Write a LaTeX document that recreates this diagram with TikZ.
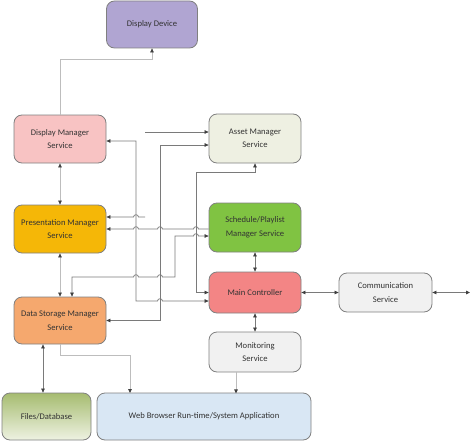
\documentclass[tikz,border=0pt]{standalone}
\usepackage{fontspec}
\setmainfont{Carlito}
\usetikzlibrary{arrows.meta,calc}
\definecolor{cdd}{HTML}{B0A5D2}
\definecolor{cdm}{HTML}{F8C3C3}
\definecolor{cam}{HTML}{EEF0E2}
\definecolor{cpm}{HTML}{F5B707}
\definecolor{csp}{HTML}{80C342}
\definecolor{cmc}{HTML}{F38585}
\definecolor{ccs}{HTML}{F1F1F1}
\definecolor{cdsm}{HTML}{F5A86E}
\definecolor{cfdt}{HTML}{A6BC70}
\definecolor{cfdb}{HTML}{EEF2E2}
\definecolor{cwb}{HTML}{D9E7F4}
\definecolor{cline}{HTML}{7A7A7A}
\definecolor{clight}{HTML}{BDBDBD}
\definecolor{ctip}{HTML}{404040}
\definecolor{ctext}{HTML}{333333}
\tikzset{
  box/.style={draw=black!50, line width=0.8pt, rounded corners=8pt, inner sep=0pt,
    align=center, text=ctext, font=\fontsize{8.6}{13.5}\selectfont},
  tip/.tip={Triangle[length=4pt,width=3.6pt,fill=ctip,color=ctip]},
  dk/.style={draw=cline, line width=0.75pt},
  lt/.style={draw=clight, line width=0.75pt},
}
\begin{document}
\begin{tikzpicture}[x=1pt,y=-1pt]
\useasboundingbox (0,0) rectangle (474,444);
% nodes
\node[box, fill=cdd, minimum width=91pt, minimum height=47pt] (dd) at (152,24.5) {Display Device};
\node[box, fill=cdm, minimum width=92pt, minimum height=48pt] (dm) at (60,139) {Display Manager\\Service};
\node[box, fill=cam, minimum width=92pt, minimum height=49pt] (am) at (255,138.5) {Asset Manager\\Service};
\node[box, fill=cpm, minimum width=92pt, minimum height=48pt] (pm) at (60,229) {Presentation Manager\\Service};
\node[box, fill=csp, minimum width=92pt, minimum height=49pt] (sp) at (255,227.5) {Schedule/Playlist\\Manager Service};
\node[box, fill=cmc, minimum width=92pt, minimum height=41pt] (mc) at (255,292.5) {Main Controller};
\node[box, fill=ccs, minimum width=93pt, minimum height=39pt] (cs) at (385.5,292.5) {Communication\\Service};
\node[box, fill=cdsm, minimum width=92pt, minimum height=47pt] (dsm) at (60,320.5) {Data Storage Manager\\Service};
\node[box, fill=ccs, minimum width=92pt, minimum height=40pt] (mon) at (255,352) {Monitoring\\Service};
\node[box, top color=cfdt, bottom color=cfdb, minimum width=89pt, minimum height=47pt] (fd) at (46.5,416.5) {Files/Database};
\node[box, fill=cwb, minimum width=214pt, minimum height=47pt] (wb) at (204,416.5) {Web Browser Run-time/System Application};
\coordinate (s1) at (145,132);
\coordinate (s2) at (145,217);
\coordinate (ext) at (470,292.5);
% connectors
\draw[lt,-tip] (dm.north) |- (152,59) -- (dd.south);
\draw[lt,tip-tip] (dm.south) -- (pm.north);
\draw[lt,tip-tip] (pm.south) -- (dsm.north);
\draw[dk,tip-tip] ([xshift=12pt]dsm.north) -- (72,277) -- (133.5,277)
  .. controls (133.5,274) and (138.5,274) .. (138.5,277) -- (157.5,277)
  .. controls (157.5,274) and (162.5,274) .. (162.5,277) -- (175,277) -- (175,236) -- (193.5,236)
  .. controls (193.5,233) and (198.5,233) .. (198.5,236) -- ([yshift=-8.5pt]sp.west);
\draw[dk,tip-tip] ([yshift=-2pt]dm.east) -- (136,141) -- (136,301) -- (157.5,301)
  .. controls (157.5,298) and (162.5,298) .. (162.5,301) -- ([yshift=-8.5pt]mc.west);
\draw[dk,tip-tip] ([yshift=-6.5pt]am.west) -- (160,145) -- (160,320.5) -- (dsm.east);
\draw[dk,tip-tip] (am.south) |- (196,172) |- (mc.west);
\draw[dk,-tip] ([yshift=-1.5pt]sp.west) -- (198.5,229)
  .. controls (198.5,226) and (193.5,226) .. (193.5,229) -- (162.5,229)
  .. controls (162.5,226) and (157.5,226) .. (157.5,229) -- (138.5,229)
  .. controls (138.5,226) and (133.5,226) .. (133.5,229) -- (pm.east);
\draw[dk,-tip] (s2) -- (138.5,217) .. controls (138.5,214) and (133.5,214) .. (133.5,217) -- ([yshift=12pt]pm.east);
\draw[dk,-tip] (s1) -- ([yshift=6.5pt]am.west);
\draw[dk,tip-tip] (sp.south) -- (mc.north);
\draw[dk,tip-tip] (mc.east) -- (cs.west);
\draw[dk,tip-tip] (cs.east) -- (ext);
\draw[dk,tip-tip] (mc.south) -- (mon.north);
\draw[lt,-tip] ([xshift=-19pt]mon.south) -- ++(0,21);
\draw[lt,-tip] (dsm.south) |- (130,355) -- (130,393);
\draw[dk,tip-tip] ([xshift=-17pt]dsm.south) -- ([xshift=-3.5pt]fd.north);
\end{tikzpicture}
\end{document}
